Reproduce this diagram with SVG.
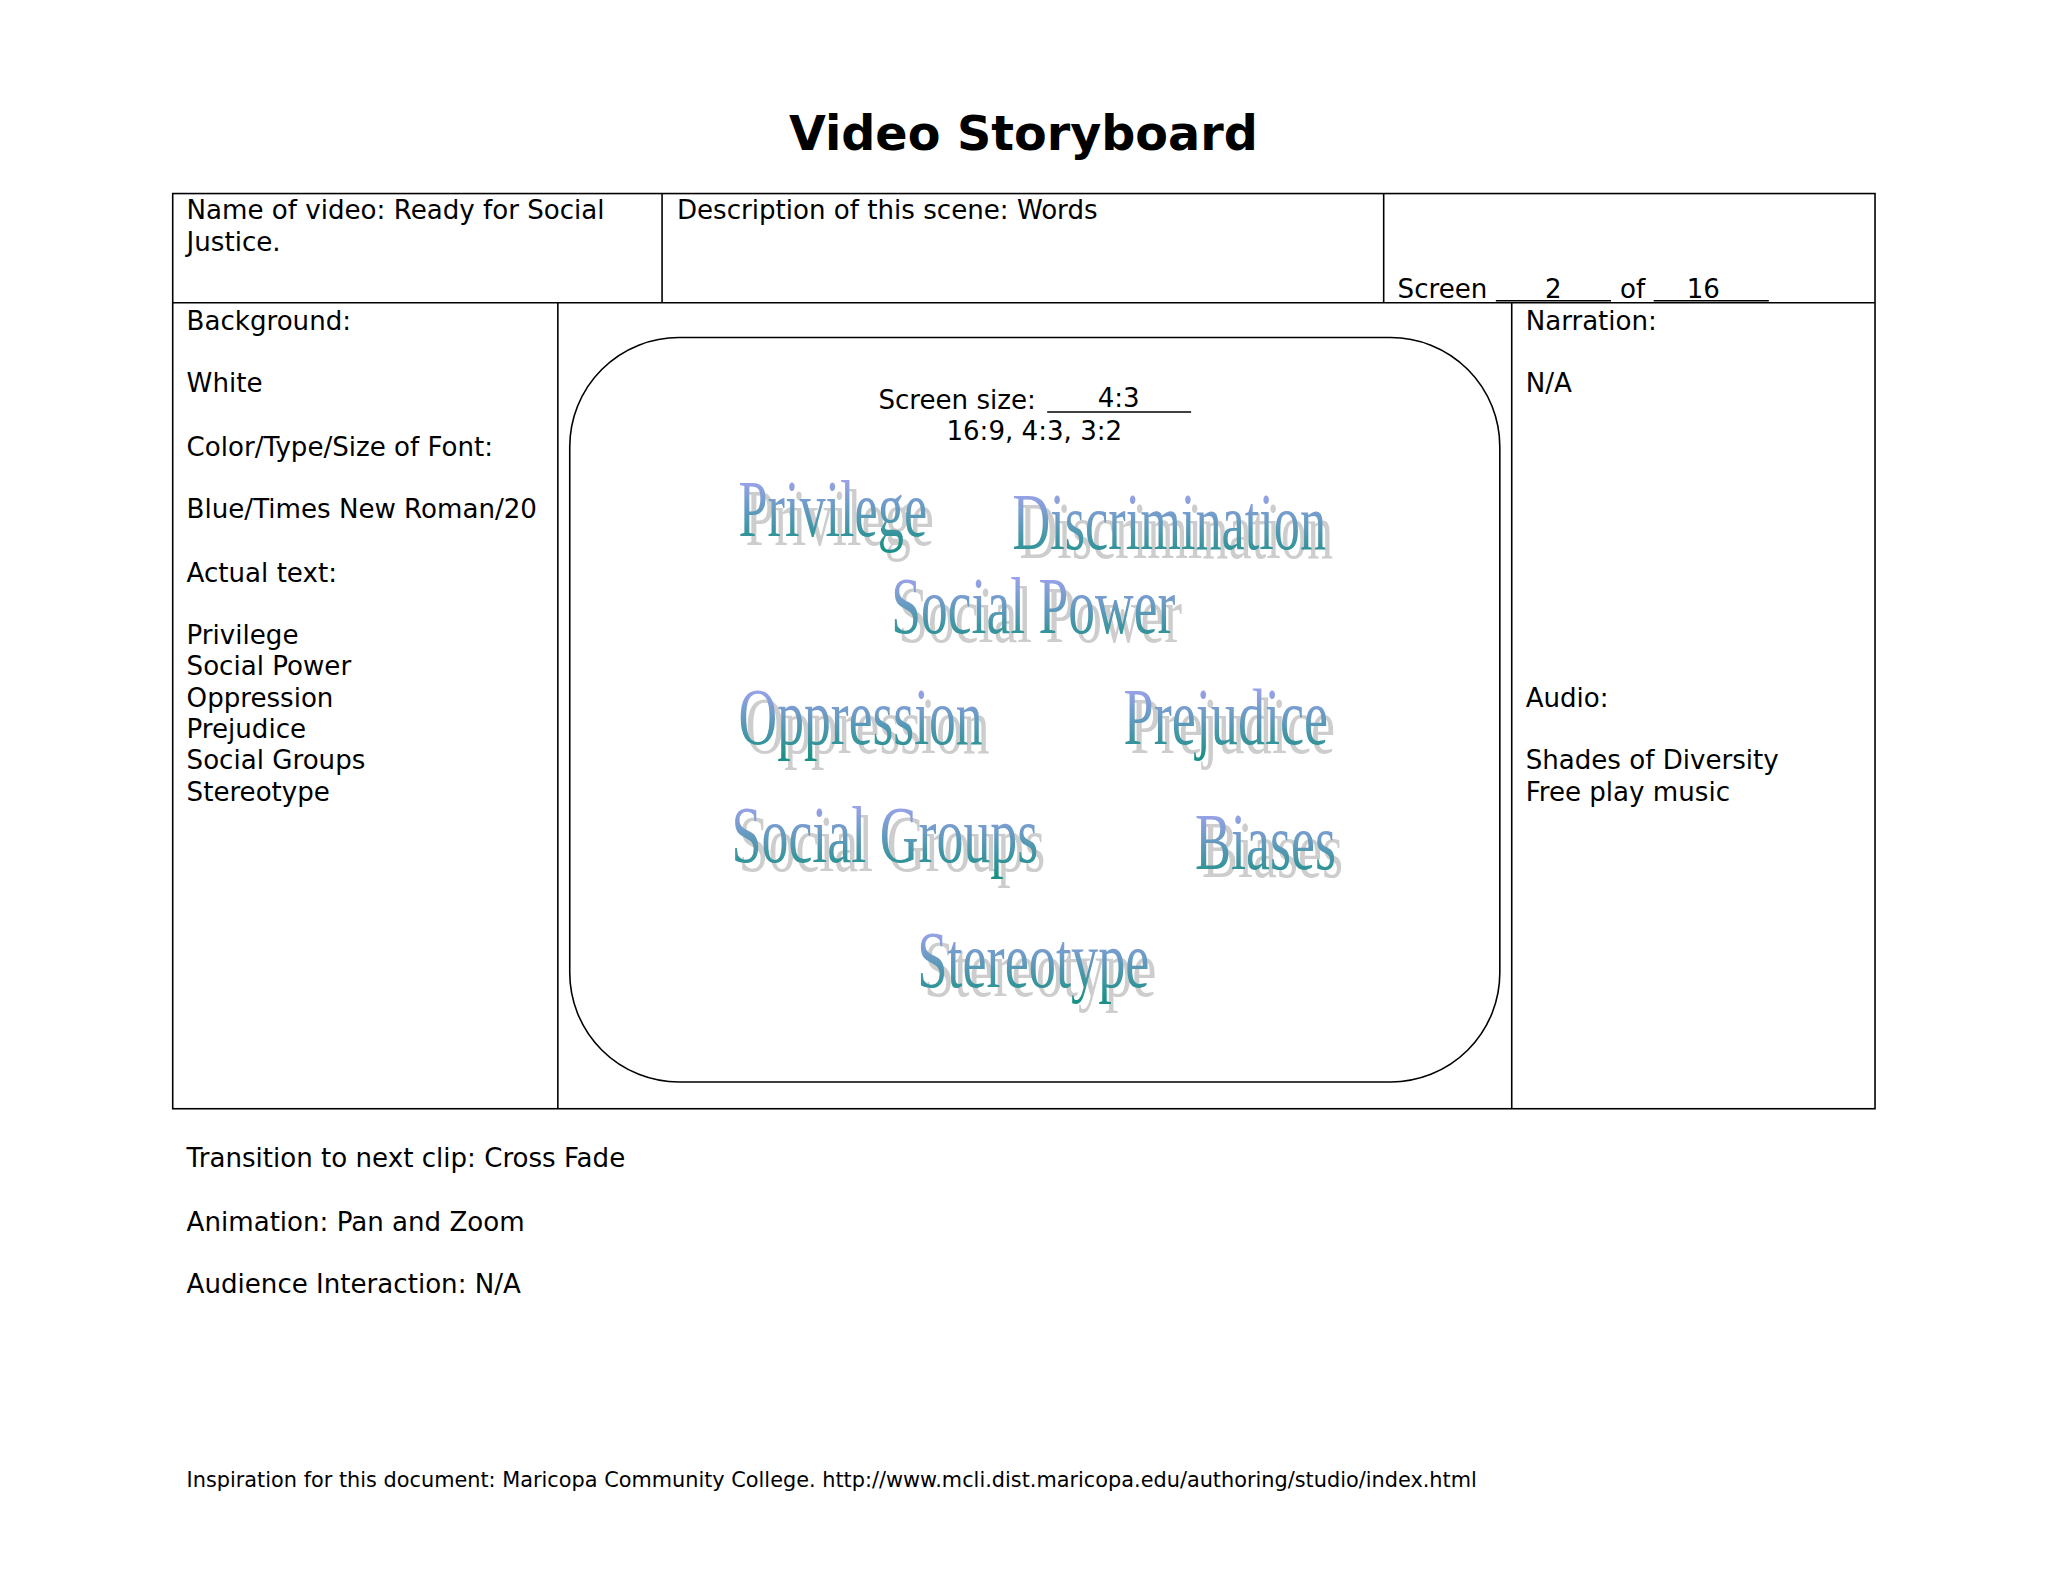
<svg xmlns="http://www.w3.org/2000/svg" width="2048" height="1582" viewBox="0 0 2048 1582">
<defs>
<linearGradient id="wa" x1="0" y1="0" x2="0" y2="1"><stop offset="0.1" stop-color="#a8a4f4"/><stop offset="0.95" stop-color="#1a9086"/></linearGradient>
<style>
.t{font-family:"DejaVu Sans",Verdana,sans-serif;font-size:26.3px;fill:#000}
.s{font-family:"DejaVu Sans",Verdana,sans-serif;font-size:21px;fill:#000}
.ln{fill:none;stroke:#000;stroke-width:1.6}
.w{font-family:"Liberation Serif","Times New Roman",serif;font-size:80px;fill:url(#wa)}
.sh{font-family:"Liberation Serif","Times New Roman",serif;font-size:80px;fill:#cdcdcd}
</style>
</defs>
<rect width="2048" height="1582" fill="#fff"/>
<g transform="scale(0.9926)">
<text x="1031" y="151" text-anchor="middle" font-family="DejaVu Sans,sans-serif" font-weight="bold" font-size="48">Video Storyboard</text>
<g id="table" class="ln">
<rect x="174" y="195" width="1715" height="922"/>
<line x1="174" y1="305" x2="1889" y2="305"/>
<line x1="667" y1="195" x2="667" y2="305"/>
<line x1="1394" y1="195" x2="1394" y2="305"/>
<line x1="562" y1="305" x2="562" y2="1117"/>
<line x1="1523" y1="305" x2="1523" y2="1117"/>
</g>
<g id="header">
<text class="t" x="188" y="221">Name of video: Ready for Social</text>
<text class="t" x="188" y="253">Justice.</text>
<text class="t" x="682" y="221">Description of this scene: Words</text>
<text class="t" x="1408" y="300">Screen</text>
<line x1="1507" y1="303" x2="1623" y2="303" stroke="#000" stroke-width="1.6"/>
<text class="t" x="1565" y="300" text-anchor="middle">2</text>
<text class="t" x="1632" y="300">of</text>
<line x1="1666" y1="303" x2="1782" y2="303" stroke="#000" stroke-width="1.6"/>
<text class="t" x="1716" y="300" text-anchor="middle">16</text>
</g>
<g id="left">
<text class="t" x="188" y="332">Background:</text>
<text class="t" x="188" y="395">White</text>
<text class="t" x="188" y="459">Color/Type/Size of Font:</text>
<text class="t" x="188" y="522">Blue/Times New Roman/20</text>
<text class="t" x="188" y="586">Actual text:</text>
<text class="t" x="188" y="649">Privilege</text>
<text class="t" x="188" y="680">Social Power</text>
<text class="t" x="188" y="712">Oppression</text>
<text class="t" x="188" y="743">Prejudice</text>
<text class="t" x="188" y="775">Social Groups</text>
<text class="t" x="188" y="807">Stereotype</text>
</g>
<g id="right">
<text class="t" x="1537" y="332">Narration:</text>
<text class="t" x="1537" y="395">N/A</text>
<text class="t" x="1537" y="712">Audio:</text>
<text class="t" x="1537" y="775">Shades of Diversity</text>
<text class="t" x="1537" y="807">Free play music</text>
</g>
<g id="screen">
<rect class="ln" x="574" y="340" width="937" height="750" rx="110" ry="110"/>
<text class="t" x="885" y="412">Screen size:</text>
<line x1="1055" y1="415" x2="1200" y2="415" stroke="#000" stroke-width="1.6"/>
<text class="t" x="1127" y="410" text-anchor="middle">4:3</text>
<text class="t" x="1042" y="443" text-anchor="middle">16:9, 4:3, 3:2</text>
</g>
<g id="words">
<text class="sh" x="751" y="549" textLength="190" lengthAdjust="spacingAndGlyphs">Privilege</text>
<text class="w" x="744" y="540" textLength="190" lengthAdjust="spacingAndGlyphs">Privilege</text>
<text class="sh" x="1027" y="562" textLength="316" lengthAdjust="spacingAndGlyphs">Discrimination</text>
<text class="w" x="1020" y="553" textLength="316" lengthAdjust="spacingAndGlyphs">Discrimination</text>
<text class="sh" x="905" y="647" textLength="286" lengthAdjust="spacingAndGlyphs">Social Power</text>
<text class="w" x="898" y="638" textLength="286" lengthAdjust="spacingAndGlyphs">Social Power</text>
<text class="sh" x="751" y="759" textLength="246" lengthAdjust="spacingAndGlyphs">Oppression</text>
<text class="w" x="744" y="750" textLength="246" lengthAdjust="spacingAndGlyphs">Oppression</text>
<text class="sh" x="1139" y="759" textLength="206" lengthAdjust="spacingAndGlyphs">Prejudice</text>
<text class="w" x="1132" y="750" textLength="206" lengthAdjust="spacingAndGlyphs">Prejudice</text>
<text class="sh" x="744" y="877" textLength="309" lengthAdjust="spacingAndGlyphs">Social Groups</text>
<text class="w" x="737" y="868" textLength="309" lengthAdjust="spacingAndGlyphs">Social Groups</text>
<text class="sh" x="1211" y="884" textLength="142" lengthAdjust="spacingAndGlyphs">Biases</text>
<text class="w" x="1204" y="875" textLength="142" lengthAdjust="spacingAndGlyphs">Biases</text>
<text class="sh" x="931" y="1003" textLength="234" lengthAdjust="spacingAndGlyphs">Stereotype</text>
<text class="w" x="924" y="994" textLength="234" lengthAdjust="spacingAndGlyphs">Stereotype</text>
</g>
<g id="footer">
<text class="t" x="188" y="1176">Transition to next clip: Cross Fade</text>
<text class="t" x="188" y="1240">Animation: Pan and Zoom</text>
<text class="t" x="188" y="1303">Audience Interaction: N/A</text>
<text class="s" x="188" y="1498">Inspiration for this document: Maricopa Community College. http://www.mcli.dist.maricopa.edu/authoring/studio/index.html</text>
</g>
</g>
</svg>
